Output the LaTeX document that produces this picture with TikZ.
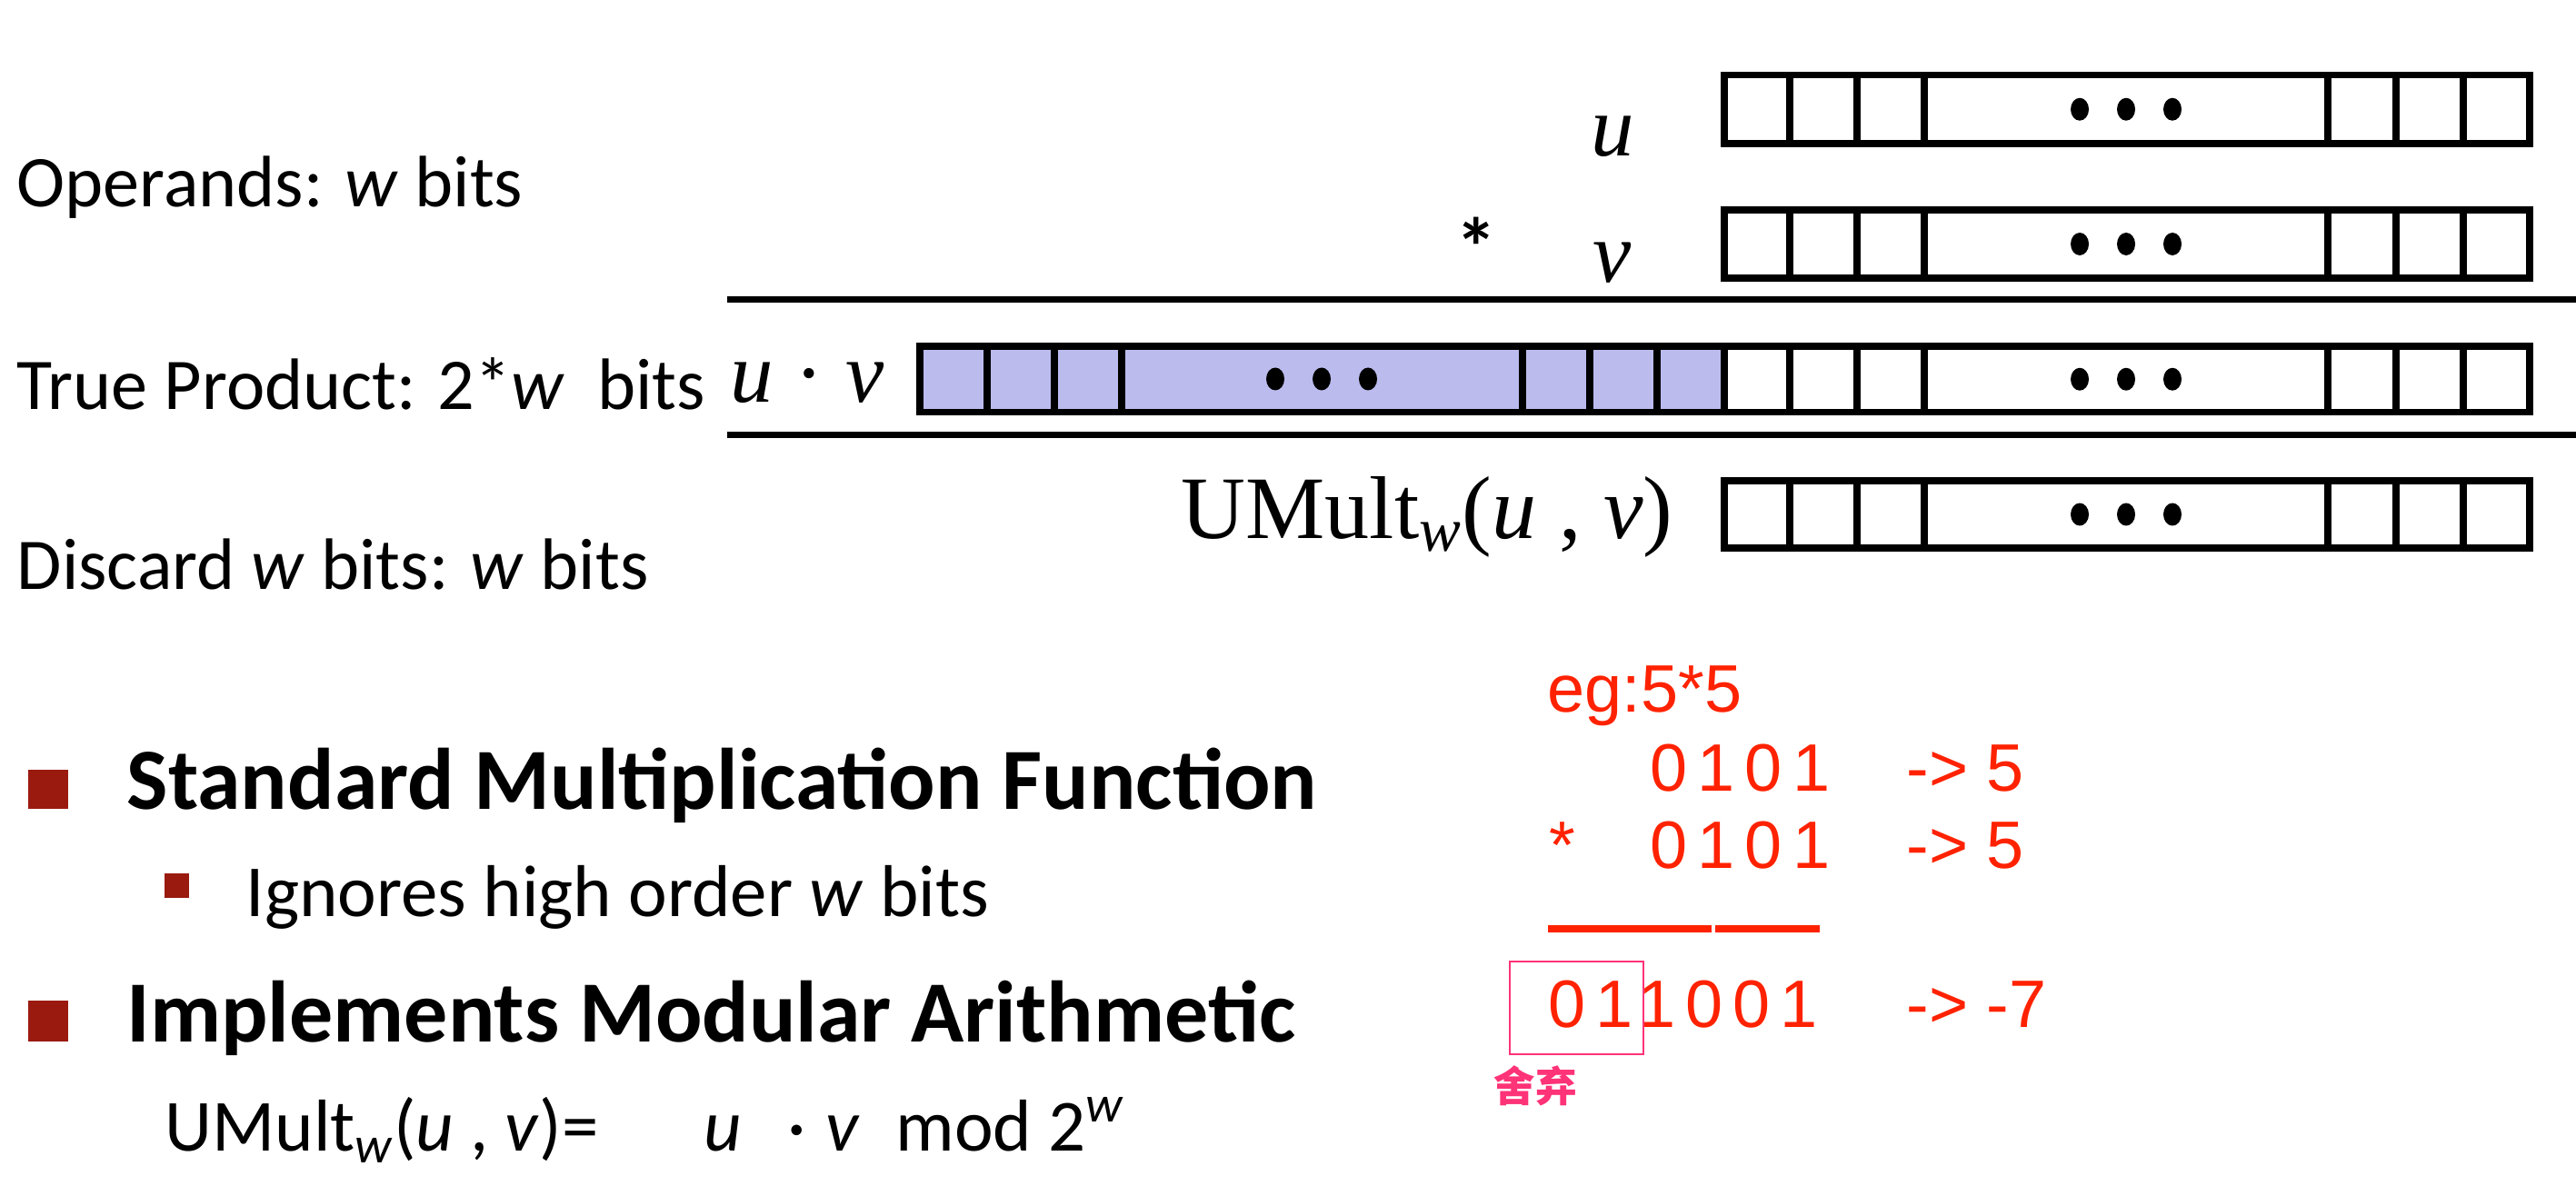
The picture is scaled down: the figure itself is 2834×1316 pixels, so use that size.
\documentclass[tikz,border=0pt]{standalone}
\usepackage{fontspec}
\setmainfont{Carlito}
\newfontfamily\tms{Liberation Serif}
\newfontfamily\ars{Liberation Sans}
\newfontfamily\arsp[LetterSpace=15]{Liberation Sans}
\newfontfamily\cjk{Noto Sans CJK SC}
\definecolor{bul}{HTML}{9A1A10}
\definecolor{rd}{HTML}{FF2200}
\definecolor{pk}{HTML}{FF3377}
\definecolor{blu}{HTML}{BBBBEE}
\newcommand{\fs}[1]{\fontsize{#1}{#1}\selectfont}
\newcommand{\bitrow}[2]{%
  \draw[bitline] (1897,#1) rectangle (2783,#2);
  \foreach \xx in {1969,2043,2117,2561,2636,2710}{\draw[bitline] (\xx,#1) -- (\xx,#2);}
  \foreach \xx in {2288,2339,2390}{\fill (\xx,{(#1+#2)/2}) ellipse (10 and 12.5);}
}
\begin{document}
\begin{tikzpicture}[x=0.01cm,y=-0.01cm,
  bitline/.style={line width=7.5pt*0.2845},
  lab/.style={anchor=base west,inner sep=0pt,font=\fs{22.8pt}},
  mth/.style={anchor=base west,inner sep=0pt,font=\tms\itshape\fs{27pt}},
  red/.style={anchor=base west,inner sep=0pt,text=rd,font=\ars\fs{21pt}},
  redsp/.style={anchor=base west,inner sep=0pt,text=rd,font=\arsp\fs{21pt}},
  head/.style={anchor=base west,inner sep=0pt,font=\bfseries\fs{27.3pt}}]
\useasboundingbox (0,0) rectangle (2834,1316);
% bit rows
\bitrow{82.5}{158}
\bitrow{231}{306}
\bitrow{381}{453.5}
\bitrow{529}{603}
\fill[blu] (1012,381) rectangle (1897,453.5);
\draw[bitline] (1012,381) rectangle (1897,453.5);
\foreach \xx in {1086,1160,1234,1675,1749,1823}{\draw[bitline] (\xx,381) -- (\xx,453.5);}
\foreach \xx in {1403,1454,1505}{\fill (\xx,417) ellipse (10 and 12.5);}
\draw[line width=7pt*0.2845] (800,330) -- (2834,330);
\draw[line width=7pt*0.2845] (800,479) -- (2834,479);
% labels
\node[lab] (op) at (18,228) {Operands: \textit{w} bits};
\node[lab] (tp) at (18,451) {True Product: 2*\textit{w}\ \ bits};
\node[lab] (dc) at (18,649) {Discard \textit{w} bits: \textit{w} bits};
\node[mth] (u) at (1750,172) {u};
\node[anchor=center,inner sep=0pt,font=\bfseries\fs{26pt}] (st) at (1624,272) {*};
\node[mth] (v) at (1752,311) {v};
\node[mth] (uv) at (803,443) {u {\upshape·} v};
\node[anchor=base west,inner sep=0pt,font=\tms\fs{27.9pt}] (um) at (1299,593) {UMult\textsubscript{\itshape w}(\textit{u} , \textit{v})};
% bullets
\fill[bul] (31,847) rectangle (75,890);
\node[head] (h1) at (139,890) {Standard Multiplication Function};
\fill[bul] (181,961) rectangle (208,988);
\node[lab,font=\fs{23pt}] (s1) at (270,1008) {Ignores high order \textit{w} bits};
\fill[bul] (31,1101) rectangle (75,1146);
\node[head] (h2) at (139,1146) {Implements Modular Arithmetic};
\node[lab,font=\fs{23pt}] (f1) at (181,1266) {UMult\textsubscript{\itshape w}(\textit{u} , \textit{v})=};
\node[lab,font=\fs{23pt}] (f2) at (774,1266) {\textit{u}};
\node[lab,font=\fs{23pt}] (f3) at (866,1266) {·};
\node[lab,font=\fs{23pt}] (f4) at (908,1266) {\textit{v}};
\node[lab,font=\fs{23pt}] (f5) at (985,1266) {mod 2\textsuperscript{\itshape w}};
% red example
\node[red] (eg) at (1702,783) {eg:5*5};
\node[redsp] (r1) at (1815,870) {0101};
\node[red] (a1) at (2097,870) {-> 5};
\node[red] (ast) at (1704,955) {*};
\node[redsp] (r2) at (1815,955) {0101};
\node[red] (a2) at (2097,955) {-> 5};
\draw[rd,line width=8pt*0.2845] (1703,1022) -- (1883,1022);
\draw[rd,line width=8pt*0.2845] (1887,1022) -- (2002,1022);
\node[redsp] (r3) at (1703,1130) {011001};
\node[red] (a3) at (2097,1130) {-> -7};
\draw[pk,line width=0.8pt] (1661,1058) rectangle (1808,1160);
\node[anchor=north west,inner sep=0pt,text=pk,font=\cjk\bfseries\fs{13pt}] (sq) at (1643,1172) {舍弃};
\end{tikzpicture}
\end{document}
